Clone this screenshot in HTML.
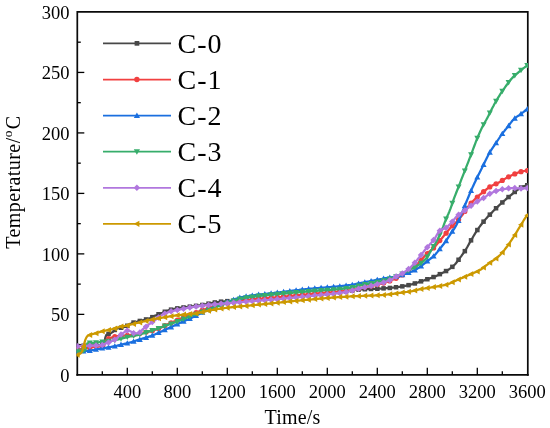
<!DOCTYPE html>
<html><head><meta charset="utf-8"><title>Temperature vs Time</title>
<style>
html,body{margin:0;padding:0;background:#fff;}
body{width:550px;height:428px;overflow:hidden;}
svg{display:block;}
text{font-family:"Liberation Serif","Times New Roman",serif;fill:#000;}
.tk{font-size:18.5px;}
.ax{font-size:20px;}
.lg{font-size:28px;}
</style></head><body>
<svg width="550" height="428" viewBox="0 0 550 428">
<rect width="550" height="428" fill="#fff"/>

<g stroke="#0a0a0a" stroke-width="1.72" fill="none" stroke-linecap="butt">
<path d="M77.3,375.75V11.95H527.8V375.75"/><path d="M76.39999999999999,374.85H528.6999999999999"/>
</g>
<g stroke="#000" stroke-width="1.3">
<line x1="102.3" y1="374.85" x2="102.3" y2="371.35"/>
<line x1="127.3" y1="374.85" x2="127.3" y2="367.85"/>
<line x1="152.3" y1="374.85" x2="152.3" y2="371.35"/>
<line x1="177.3" y1="374.85" x2="177.3" y2="367.85"/>
<line x1="202.3" y1="374.85" x2="202.3" y2="371.35"/>
<line x1="227.3" y1="374.85" x2="227.3" y2="367.85"/>
<line x1="252.3" y1="374.85" x2="252.3" y2="371.35"/>
<line x1="277.3" y1="374.85" x2="277.3" y2="367.85"/>
<line x1="302.3" y1="374.85" x2="302.3" y2="371.35"/>
<line x1="327.3" y1="374.85" x2="327.3" y2="367.85"/>
<line x1="352.3" y1="374.85" x2="352.3" y2="371.35"/>
<line x1="377.3" y1="374.85" x2="377.3" y2="367.85"/>
<line x1="402.3" y1="374.85" x2="402.3" y2="371.35"/>
<line x1="427.3" y1="374.85" x2="427.3" y2="367.85"/>
<line x1="452.3" y1="374.85" x2="452.3" y2="371.35"/>
<line x1="477.3" y1="374.85" x2="477.3" y2="367.85"/>
<line x1="502.3" y1="374.85" x2="502.3" y2="371.35"/>
<line x1="77.3" y1="344.60833333333335" x2="80.8" y2="344.60833333333335"/>
<line x1="77.3" y1="314.3666666666667" x2="84.3" y2="314.3666666666667"/>
<line x1="77.3" y1="284.125" x2="80.8" y2="284.125"/>
<line x1="77.3" y1="253.88333333333333" x2="84.3" y2="253.88333333333333"/>
<line x1="77.3" y1="223.64166666666668" x2="80.8" y2="223.64166666666668"/>
<line x1="77.3" y1="193.4" x2="84.3" y2="193.4"/>
<line x1="77.3" y1="163.15833333333333" x2="80.8" y2="163.15833333333333"/>
<line x1="77.3" y1="132.91666666666666" x2="84.3" y2="132.91666666666666"/>
<line x1="77.3" y1="102.67500000000001" x2="80.8" y2="102.67500000000001"/>
<line x1="77.3" y1="72.43333333333334" x2="84.3" y2="72.43333333333334"/>
<line x1="77.3" y1="42.19166666666666" x2="80.8" y2="42.19166666666666"/>
</g>
<text class="tk" x="127.3" y="397.5" text-anchor="middle">400</text>
<text class="tk" x="177.3" y="397.5" text-anchor="middle">800</text>
<text class="tk" x="227.3" y="397.5" text-anchor="middle">1200</text>
<text class="tk" x="277.3" y="397.5" text-anchor="middle">1600</text>
<text class="tk" x="327.3" y="397.5" text-anchor="middle">2000</text>
<text class="tk" x="377.3" y="397.5" text-anchor="middle">2400</text>
<text class="tk" x="427.3" y="397.5" text-anchor="middle">2800</text>
<text class="tk" x="477.3" y="397.5" text-anchor="middle">3200</text>
<text class="tk" x="527.3" y="397.5" text-anchor="middle">3600</text>
<text class="tk" x="69.6" y="381.6" text-anchor="end">0</text>
<text class="tk" x="69.6" y="321.1" text-anchor="end">50</text>
<text class="tk" x="69.6" y="260.6" text-anchor="end">100</text>
<text class="tk" x="69.6" y="200.1" text-anchor="end">150</text>
<text class="tk" x="69.6" y="139.6" text-anchor="end">200</text>
<text class="tk" x="69.6" y="79.1" text-anchor="end">250</text>
<text class="tk" x="69.6" y="18.6" text-anchor="end">300</text>
<text class="ax" x="292.6" y="423.7" text-anchor="middle" style="letter-spacing:0.2px">Time/s</text>
<text class="ax" transform="translate(19.6,182.2) rotate(-90)" text-anchor="middle" style="letter-spacing:0.43px">Temperature/<tspan font-size="13.5px" dy="-8">o</tspan><tspan dy="8" dx="0.8">C</tspan></text>
<clipPath id="cp"><rect x="76.39999999999999" y="11.95" width="451.59999999999997" height="362.90000000000003"/></clipPath>
<g clip-path="url(#cp)">
<g fill="#484848" stroke="none">
<polyline points="77.3,346.0 78.3,346.0 79.3,345.9 80.3,345.9 81.3,345.9 82.3,345.8 83.3,345.8 84.3,345.8 85.3,345.7 86.3,345.7 87.3,345.6 88.3,345.6 89.3,345.5 90.3,345.5 91.3,345.4 92.3,345.4 93.3,345.4 94.3,345.4 95.3,345.3 96.3,345.3 97.3,345.2 98.3,345.2 99.3,345.1 100.3,345.0 101.3,344.9 102.3,344.8 103.3,344.6 104.3,343.1 105.3,337.7 106.3,335.0 107.3,334.3 108.3,334.0 109.3,333.8 110.3,333.4 111.3,332.9 112.3,332.3 113.3,331.6 114.3,330.5 115.3,329.5 116.3,328.9 117.3,328.5 118.3,328.2 119.3,328.0 120.3,327.8 121.3,327.7 122.3,327.5 123.3,327.3 124.3,327.0 125.3,326.7 126.3,326.2 127.3,325.7 128.3,325.1 129.3,324.5 130.3,323.9 131.3,323.4 132.3,322.9 133.3,322.6 134.3,322.3 135.3,322.1 136.3,321.8 137.3,321.6 138.3,321.3 139.3,321.1 140.3,320.8 141.3,320.6 142.3,320.3 143.3,320.1 144.3,319.9 145.3,319.6 146.3,319.4 147.3,319.1 148.3,318.8 149.3,318.4 150.3,318.1 151.3,317.6 152.3,317.1 153.3,316.6 154.3,316.1 155.3,315.6 156.3,315.2 157.3,314.8 158.3,314.4 159.3,314.0 160.3,313.5 161.3,313.1 162.3,312.8 163.3,312.4 164.3,312.0 165.3,311.6 166.3,311.2 167.3,310.8 168.3,310.4 169.3,310.1 170.3,309.8 171.3,309.6 172.3,309.3 173.3,309.1 174.3,308.9 175.3,308.7 176.3,308.6 177.3,308.4 178.3,308.2 179.3,308.1 180.3,307.9 181.3,307.7 182.3,307.6 183.3,307.5 184.3,307.3 185.3,307.2 186.3,307.1 187.3,306.9 188.3,306.8 189.3,306.7 190.3,306.6 191.3,306.5 192.3,306.3 193.3,306.2 194.3,306.1 195.3,306.0 196.3,305.8 197.3,305.7 198.3,305.6 199.3,305.4 200.3,305.3 201.3,305.1 202.3,304.9 203.3,304.7 204.3,304.5 205.3,304.3 206.3,304.1 207.3,303.9 208.3,303.7 209.3,303.5 210.3,303.3 211.3,303.1 212.3,302.9 213.3,302.7 214.3,302.6 215.3,302.4 216.3,302.2 217.3,302.1 218.3,302.0 219.3,301.9 220.3,301.8 221.3,301.7 222.3,301.6 223.3,301.5 224.3,301.4 225.3,301.3 226.3,301.3 227.3,301.2 228.3,301.1 229.3,301.0 230.3,301.0 231.3,300.9 232.3,300.8 233.3,300.8 234.3,300.7 235.3,300.7 236.3,300.6 237.3,300.5 238.3,300.5 239.3,300.4 240.3,300.4 241.3,300.3 242.3,300.3 243.3,300.2 244.3,300.1 245.3,300.1 246.3,300.0 247.3,300.0 248.3,299.9 249.3,299.8 250.3,299.8 251.3,299.7 252.3,299.6 253.3,299.5 254.3,299.5 255.3,299.4 256.3,299.3 257.3,299.2 258.3,299.2 259.3,299.1 260.3,299.0 261.3,298.9 262.3,298.9 263.3,298.8 264.3,298.7 265.3,298.6 266.3,298.6 267.3,298.5 268.3,298.4 269.3,298.3 270.3,298.3 271.3,298.2 272.3,298.1 273.3,298.0 274.3,298.0 275.3,297.9 276.3,297.8 277.3,297.7 278.3,297.6 279.3,297.6 280.3,297.5 281.3,297.4 282.3,297.3 283.3,297.3 284.3,297.2 285.3,297.1 286.3,297.0 287.3,296.9 288.3,296.9 289.3,296.8 290.3,296.7 291.3,296.6 292.3,296.5 293.3,296.5 294.3,296.4 295.3,296.3 296.3,296.2 297.3,296.1 298.3,296.0 299.3,296.0 300.3,295.9 301.3,295.8 302.3,295.7 303.3,295.6 304.3,295.5 305.3,295.4 306.3,295.4 307.3,295.3 308.3,295.2 309.3,295.1 310.3,295.0 311.3,294.9 312.3,294.8 313.3,294.8 314.3,294.7 315.3,294.6 316.3,294.5 317.3,294.4 318.3,294.3 319.3,294.2 320.3,294.2 321.3,294.1 322.3,294.0 323.3,293.9 324.3,293.8 325.3,293.7 326.3,293.6 327.3,293.5 328.3,293.4 329.3,293.3 330.3,293.2 331.3,293.1 332.3,293.0 333.3,292.9 334.3,292.8 335.3,292.7 336.3,292.6 337.3,292.5 338.3,292.4 339.3,292.3 340.3,292.2 341.3,292.0 342.3,291.9 343.3,291.8 344.3,291.6 345.3,291.5 346.3,291.3 347.3,291.2 348.3,291.0 349.3,290.9 350.3,290.7 351.3,290.6 352.3,290.4 353.3,290.3 354.3,290.2 355.3,290.0 356.3,289.9 357.3,289.8 358.3,289.6 359.3,289.5 360.3,289.4 361.3,289.4 362.3,289.3 363.3,289.3 364.3,289.2 365.3,289.2 366.3,289.2 367.3,289.1 368.3,289.1 369.3,289.0 370.3,289.0 371.3,289.0 372.3,288.9 373.3,288.9 374.3,288.8 375.3,288.8 376.3,288.8 377.3,288.7 378.3,288.7 379.3,288.6 380.3,288.6 381.3,288.5 382.3,288.5 383.3,288.4 384.3,288.3 385.3,288.3 386.3,288.2 387.3,288.1 388.3,288.1 389.3,288.0 390.3,287.9 391.3,287.8 392.3,287.7 393.3,287.6 394.3,287.5 395.3,287.4 396.3,287.2 397.3,287.1 398.3,287.0 399.3,286.9 400.3,286.7 401.3,286.5 402.3,286.4 403.3,286.2 404.3,286.0 405.3,285.8 406.3,285.6 407.3,285.4 408.3,285.2 409.3,285.0 410.3,284.7 411.3,284.5 412.3,284.2 413.3,283.9 414.3,283.6 415.3,283.2 416.3,282.9 417.3,282.6 418.3,282.3 419.3,281.9 420.3,281.6 421.3,281.3 422.3,280.9 423.3,280.6 424.3,280.3 425.3,279.9 426.3,279.6 427.3,279.2 428.3,278.9 429.3,278.6 430.3,278.2 431.3,277.9 432.3,277.5 433.3,277.2 434.3,276.8 435.3,276.4 436.3,275.9 437.3,275.4 438.3,274.9 439.3,274.4 440.3,273.9 441.3,273.4 442.3,272.9 443.3,272.4 444.3,271.9 445.3,271.5 446.3,271.0 447.3,270.4 448.3,269.8 449.3,269.1 450.3,268.4 451.3,267.7 452.3,266.8 453.3,265.9 454.3,265.0 455.3,264.0 456.3,262.8 457.3,261.5 458.3,260.1 459.3,258.7 460.3,257.4 461.3,256.1 462.3,254.7 463.3,253.3 464.3,251.9 465.3,250.4 466.3,248.7 467.3,247.0 468.3,245.2 469.3,243.4 470.3,241.7 471.3,240.0 472.3,238.2 473.3,236.5 474.3,234.8 475.3,233.2 476.3,231.6 477.3,230.1 478.3,228.6 479.3,227.2 480.3,225.8 481.3,224.5 482.3,223.2 483.3,222.0 484.3,220.7 485.3,219.6 486.3,218.4 487.3,217.3 488.3,216.2 489.3,215.2 490.3,214.1 491.3,213.1 492.3,212.1 493.3,211.0 494.3,210.0 495.3,209.0 496.3,208.0 497.3,207.1 498.3,206.1 499.3,205.2 500.3,204.2 501.3,203.3 502.3,202.4 503.3,201.5 504.3,200.6 505.3,199.8 506.3,198.9 507.3,198.1 508.3,197.3 509.3,196.4 510.3,195.6 511.3,194.8 512.3,194.0 513.3,193.2 514.3,192.4 515.3,191.6 516.3,190.8 517.3,190.1 518.3,189.4 519.3,188.7 520.3,188.0 521.3,187.4 522.3,186.9 523.3,186.4 524.3,186.1 525.3,185.8 526.3,185.5 527.3,185.3" fill="none" stroke="#484848" stroke-width="2.25" stroke-linejoin="round"/>
<rect x="75.0" y="343.8" width="4.5" height="4.5"/>
<rect x="81.3" y="343.5" width="4.5" height="4.5"/>
<rect x="87.5" y="343.3" width="4.5" height="4.5"/>
<rect x="93.8" y="343.1" width="4.5" height="4.5"/>
<rect x="100.0" y="342.5" width="4.5" height="4.5"/>
<rect x="106.3" y="331.7" width="4.5" height="4.5"/>
<rect x="112.5" y="327.7" width="4.5" height="4.5"/>
<rect x="118.8" y="325.5" width="4.5" height="4.5"/>
<rect x="125.0" y="323.5" width="4.5" height="4.5"/>
<rect x="131.3" y="320.3" width="4.5" height="4.5"/>
<rect x="137.6" y="318.7" width="4.5" height="4.5"/>
<rect x="143.8" y="317.2" width="4.5" height="4.5"/>
<rect x="150.1" y="314.9" width="4.5" height="4.5"/>
<rect x="156.3" y="312.0" width="4.5" height="4.5"/>
<rect x="162.6" y="309.5" width="4.5" height="4.5"/>
<rect x="168.8" y="307.4" width="4.5" height="4.5"/>
<rect x="175.1" y="306.1" width="4.5" height="4.5"/>
<rect x="181.3" y="305.2" width="4.5" height="4.5"/>
<rect x="187.6" y="304.4" width="4.5" height="4.5"/>
<rect x="193.8" y="303.6" width="4.5" height="4.5"/>
<rect x="200.1" y="302.7" width="4.5" height="4.5"/>
<rect x="206.3" y="301.4" width="4.5" height="4.5"/>
<rect x="212.6" y="300.2" width="4.5" height="4.5"/>
<rect x="218.8" y="299.4" width="4.5" height="4.5"/>
<rect x="225.1" y="298.9" width="4.5" height="4.5"/>
<rect x="231.3" y="298.5" width="4.5" height="4.5"/>
<rect x="237.6" y="298.2" width="4.5" height="4.5"/>
<rect x="243.8" y="297.8" width="4.5" height="4.5"/>
<rect x="250.1" y="297.4" width="4.5" height="4.5"/>
<rect x="256.3" y="296.9" width="4.5" height="4.5"/>
<rect x="262.6" y="296.4" width="4.5" height="4.5"/>
<rect x="268.8" y="296.0" width="4.5" height="4.5"/>
<rect x="275.1" y="295.5" width="4.5" height="4.5"/>
<rect x="281.3" y="295.0" width="4.5" height="4.5"/>
<rect x="287.6" y="294.5" width="4.5" height="4.5"/>
<rect x="293.8" y="294.0" width="4.5" height="4.5"/>
<rect x="300.1" y="293.5" width="4.5" height="4.5"/>
<rect x="306.3" y="292.9" width="4.5" height="4.5"/>
<rect x="312.6" y="292.4" width="4.5" height="4.5"/>
<rect x="318.8" y="291.8" width="4.5" height="4.5"/>
<rect x="325.1" y="291.3" width="4.5" height="4.5"/>
<rect x="331.3" y="290.7" width="4.5" height="4.5"/>
<rect x="337.6" y="290.0" width="4.5" height="4.5"/>
<rect x="343.8" y="289.1" width="4.5" height="4.5"/>
<rect x="350.1" y="288.2" width="4.5" height="4.5"/>
<rect x="356.3" y="287.4" width="4.5" height="4.5"/>
<rect x="362.6" y="287.0" width="4.5" height="4.5"/>
<rect x="368.8" y="286.7" width="4.5" height="4.5"/>
<rect x="375.1" y="286.5" width="4.5" height="4.5"/>
<rect x="381.3" y="286.1" width="4.5" height="4.5"/>
<rect x="387.6" y="285.7" width="4.5" height="4.5"/>
<rect x="393.8" y="285.0" width="4.5" height="4.5"/>
<rect x="400.1" y="284.1" width="4.5" height="4.5"/>
<rect x="406.3" y="282.9" width="4.5" height="4.5"/>
<rect x="412.6" y="281.2" width="4.5" height="4.5"/>
<rect x="418.8" y="279.1" width="4.5" height="4.5"/>
<rect x="425.1" y="277.0" width="4.5" height="4.5"/>
<rect x="431.3" y="274.8" width="4.5" height="4.5"/>
<rect x="437.6" y="271.9" width="4.5" height="4.5"/>
<rect x="443.8" y="268.8" width="4.5" height="4.5"/>
<rect x="450.1" y="264.6" width="4.5" height="4.5"/>
<rect x="456.3" y="257.5" width="4.5" height="4.5"/>
<rect x="462.6" y="248.9" width="4.5" height="4.5"/>
<rect x="468.8" y="238.1" width="4.5" height="4.5"/>
<rect x="475.1" y="227.8" width="4.5" height="4.5"/>
<rect x="481.3" y="219.4" width="4.5" height="4.5"/>
<rect x="487.6" y="212.4" width="4.5" height="4.5"/>
<rect x="493.8" y="206.0" width="4.5" height="4.5"/>
<rect x="500.1" y="200.2" width="4.5" height="4.5"/>
<rect x="506.3" y="194.8" width="4.5" height="4.5"/>
<rect x="512.5" y="189.7" width="4.5" height="4.5"/>
<rect x="518.8" y="185.3" width="4.5" height="4.5"/>
<rect x="525.0" y="183.0" width="4.5" height="4.5"/>
</g>
<g fill="#F14040" stroke="none">
<polyline points="77.3,349.5 78.3,349.4 79.3,349.3 80.3,349.1 81.3,349.0 82.3,348.9 83.3,348.7 84.3,348.6 85.3,348.5 86.3,348.3 87.3,348.2 88.3,348.0 89.3,347.8 90.3,347.6 91.3,347.4 92.3,347.2 93.3,347.0 94.3,346.8 95.3,346.7 96.3,346.6 97.3,346.5 98.3,346.4 99.3,346.4 100.3,346.4 101.3,346.3 102.3,346.2 103.3,346.1 104.3,345.6 105.3,342.5 106.3,340.3 107.3,339.2 108.3,338.7 109.3,338.4 110.3,338.1 111.3,337.7 112.3,337.4 113.3,337.1 114.3,336.8 115.3,336.5 116.3,336.3 117.3,336.2 118.3,336.1 119.3,336.0 120.3,335.9 121.3,335.8 122.3,335.8 123.3,335.7 124.3,335.6 125.3,335.5 126.3,335.5 127.3,335.4 128.3,335.3 129.3,335.2 130.3,335.1 131.3,335.0 132.3,334.9 133.3,334.7 134.3,334.6 135.3,334.5 136.3,334.3 137.3,334.1 138.3,333.9 139.3,333.6 140.3,333.4 141.3,333.1 142.3,332.9 143.3,332.6 144.3,332.4 145.3,332.1 146.3,331.9 147.3,331.8 148.3,331.6 149.3,331.4 150.3,331.2 151.3,331.0 152.3,330.7 153.3,330.4 154.3,330.1 155.3,329.7 156.3,329.4 157.3,329.0 158.3,328.6 159.3,328.2 160.3,327.8 161.3,327.4 162.3,326.9 163.3,326.4 164.3,326.0 165.3,325.5 166.3,325.0 167.3,324.5 168.3,324.0 169.3,323.6 170.3,323.1 171.3,322.7 172.3,322.2 173.3,321.8 174.3,321.4 175.3,320.9 176.3,320.5 177.3,320.1 178.3,319.6 179.3,319.2 180.3,318.8 181.3,318.3 182.3,317.9 183.3,317.5 184.3,317.1 185.3,316.7 186.3,316.3 187.3,315.8 188.3,315.4 189.3,315.0 190.3,314.6 191.3,314.3 192.3,313.9 193.3,313.5 194.3,313.1 195.3,312.7 196.3,312.4 197.3,312.0 198.3,311.6 199.3,311.3 200.3,310.9 201.3,310.6 202.3,310.2 203.3,309.9 204.3,309.5 205.3,309.2 206.3,308.8 207.3,308.5 208.3,308.2 209.3,307.9 210.3,307.6 211.3,307.3 212.3,307.0 213.3,306.7 214.3,306.4 215.3,306.2 216.3,305.9 217.3,305.6 218.3,305.4 219.3,305.1 220.3,304.8 221.3,304.6 222.3,304.3 223.3,304.1 224.3,303.9 225.3,303.6 226.3,303.4 227.3,303.2 228.3,303.0 229.3,302.8 230.3,302.6 231.3,302.4 232.3,302.2 233.3,302.1 234.3,301.9 235.3,301.8 236.3,301.6 237.3,301.5 238.3,301.3 239.3,301.2 240.3,301.1 241.3,300.9 242.3,300.8 243.3,300.7 244.3,300.6 245.3,300.4 246.3,300.3 247.3,300.2 248.3,300.1 249.3,300.0 250.3,299.9 251.3,299.8 252.3,299.7 253.3,299.6 254.3,299.4 255.3,299.3 256.3,299.2 257.3,299.1 258.3,299.0 259.3,299.0 260.3,298.9 261.3,298.8 262.3,298.7 263.3,298.6 264.3,298.5 265.3,298.4 266.3,298.3 267.3,298.2 268.3,298.1 269.3,298.0 270.3,297.9 271.3,297.9 272.3,297.8 273.3,297.7 274.3,297.6 275.3,297.5 276.3,297.4 277.3,297.3 278.3,297.2 279.3,297.1 280.3,297.0 281.3,296.9 282.3,296.8 283.3,296.7 284.3,296.6 285.3,296.5 286.3,296.4 287.3,296.3 288.3,296.2 289.3,296.1 290.3,296.0 291.3,295.9 292.3,295.8 293.3,295.7 294.3,295.6 295.3,295.5 296.3,295.4 297.3,295.3 298.3,295.2 299.3,295.1 300.3,295.0 301.3,294.9 302.3,294.8 303.3,294.7 304.3,294.6 305.3,294.5 306.3,294.4 307.3,294.3 308.3,294.2 309.3,294.1 310.3,294.0 311.3,293.9 312.3,293.8 313.3,293.7 314.3,293.7 315.3,293.6 316.3,293.5 317.3,293.4 318.3,293.4 319.3,293.3 320.3,293.2 321.3,293.1 322.3,293.1 323.3,293.0 324.3,292.9 325.3,292.8 326.3,292.8 327.3,292.7 328.3,292.6 329.3,292.5 330.3,292.4 331.3,292.4 332.3,292.3 333.3,292.2 334.3,292.1 335.3,292.0 336.3,291.9 337.3,291.8 338.3,291.7 339.3,291.6 340.3,291.6 341.3,291.4 342.3,291.3 343.3,291.2 344.3,291.1 345.3,291.0 346.3,290.9 347.3,290.8 348.3,290.6 349.3,290.5 350.3,290.4 351.3,290.2 352.3,290.0 353.3,289.8 354.3,289.6 355.3,289.4 356.3,289.2 357.3,288.9 358.3,288.7 359.3,288.4 360.3,288.2 361.3,287.9 362.3,287.7 363.3,287.5 364.3,287.2 365.3,287.0 366.3,286.8 367.3,286.6 368.3,286.4 369.3,286.2 370.3,286.0 371.3,285.9 372.3,285.7 373.3,285.5 374.3,285.3 375.3,285.1 376.3,284.9 377.3,284.6 378.3,284.4 379.3,284.2 380.3,283.9 381.3,283.7 382.3,283.4 383.3,283.1 384.3,282.8 385.3,282.5 386.3,282.2 387.3,281.8 388.3,281.5 389.3,281.1 390.3,280.7 391.3,280.3 392.3,279.9 393.3,279.5 394.3,279.1 395.3,278.6 396.3,278.2 397.3,277.7 398.3,277.2 399.3,276.7 400.3,276.1 401.3,275.6 402.3,275.0 403.3,274.4 404.3,273.7 405.3,273.1 406.3,272.4 407.3,271.7 408.3,271.1 409.3,270.4 410.3,269.6 411.3,268.9 412.3,268.1 413.3,267.2 414.3,266.4 415.3,265.6 416.3,264.7 417.3,263.8 418.3,262.9 419.3,261.9 420.3,260.9 421.3,259.9 422.3,258.8 423.3,257.7 424.3,256.6 425.3,255.5 426.3,254.5 427.3,253.5 428.3,252.5 429.3,251.6 430.3,250.8 431.3,250.0 432.3,249.1 433.3,248.3 434.3,247.3 435.3,246.2 436.3,245.0 437.3,243.8 438.3,242.5 439.3,241.3 440.3,240.0 441.3,238.9 442.3,237.7 443.3,236.5 444.3,235.3 445.3,234.1 446.3,232.9 447.3,231.7 448.3,230.4 449.3,229.2 450.3,227.9 451.3,226.8 452.3,225.8 453.3,224.9 454.3,224.1 455.3,223.1 456.3,222.1 457.3,221.0 458.3,219.9 459.3,218.7 460.3,217.5 461.3,216.3 462.3,215.0 463.3,213.7 464.3,212.2 465.3,210.8 466.3,209.3 467.3,207.9 468.3,206.5 469.3,205.2 470.3,204.0 471.3,202.9 472.3,201.8 473.3,200.8 474.3,199.8 475.3,198.8 476.3,197.9 477.3,197.0 478.3,196.1 479.3,195.2 480.3,194.3 481.3,193.5 482.3,192.7 483.3,191.9 484.3,191.1 485.3,190.3 486.3,189.5 487.3,188.7 488.3,187.9 489.3,187.2 490.3,186.6 491.3,186.1 492.3,185.6 493.3,185.1 494.3,184.6 495.3,184.2 496.3,183.7 497.3,183.3 498.3,182.8 499.3,182.2 500.3,181.7 501.3,181.1 502.3,180.4 503.3,179.8 504.3,179.2 505.3,178.6 506.3,178.0 507.3,177.5 508.3,177.0 509.3,176.5 510.3,176.0 511.3,175.5 512.3,175.0 513.3,174.6 514.3,174.1 515.3,173.7 516.3,173.3 517.3,172.9 518.3,172.5 519.3,172.2 520.3,171.9 521.3,171.7 522.3,171.4 523.3,171.2 524.3,171.0 525.3,170.8 526.3,170.7 527.3,170.6" fill="none" stroke="#F14040" stroke-width="2.25" stroke-linejoin="round"/>
<circle cx="77.3" cy="349.5" r="2.6"/>
<circle cx="83.5" cy="348.7" r="2.6"/>
<circle cx="89.8" cy="347.7" r="2.6"/>
<circle cx="96.0" cy="346.6" r="2.6"/>
<circle cx="102.3" cy="346.2" r="2.6"/>
<circle cx="108.5" cy="338.7" r="2.6"/>
<circle cx="114.8" cy="336.6" r="2.6"/>
<circle cx="121.0" cy="335.8" r="2.6"/>
<circle cx="127.3" cy="335.4" r="2.6"/>
<circle cx="133.6" cy="334.7" r="2.6"/>
<circle cx="139.8" cy="333.5" r="2.6"/>
<circle cx="146.1" cy="332.0" r="2.6"/>
<circle cx="152.3" cy="330.7" r="2.6"/>
<circle cx="158.6" cy="328.5" r="2.6"/>
<circle cx="164.8" cy="325.7" r="2.6"/>
<circle cx="171.1" cy="322.8" r="2.6"/>
<circle cx="177.3" cy="320.1" r="2.6"/>
<circle cx="183.6" cy="317.4" r="2.6"/>
<circle cx="189.8" cy="314.8" r="2.6"/>
<circle cx="196.1" cy="312.5" r="2.6"/>
<circle cx="202.3" cy="310.2" r="2.6"/>
<circle cx="208.6" cy="308.1" r="2.6"/>
<circle cx="214.8" cy="306.3" r="2.6"/>
<circle cx="221.1" cy="304.6" r="2.6"/>
<circle cx="227.3" cy="303.2" r="2.6"/>
<circle cx="233.6" cy="302.0" r="2.6"/>
<circle cx="239.8" cy="301.1" r="2.6"/>
<circle cx="246.1" cy="300.4" r="2.6"/>
<circle cx="252.3" cy="299.7" r="2.6"/>
<circle cx="258.6" cy="299.0" r="2.6"/>
<circle cx="264.8" cy="298.4" r="2.6"/>
<circle cx="271.1" cy="297.9" r="2.6"/>
<circle cx="277.3" cy="297.3" r="2.6"/>
<circle cx="283.6" cy="296.6" r="2.6"/>
<circle cx="289.8" cy="296.0" r="2.6"/>
<circle cx="296.1" cy="295.4" r="2.6"/>
<circle cx="302.3" cy="294.8" r="2.6"/>
<circle cx="308.6" cy="294.2" r="2.6"/>
<circle cx="314.8" cy="293.6" r="2.6"/>
<circle cx="321.1" cy="293.1" r="2.6"/>
<circle cx="327.3" cy="292.7" r="2.6"/>
<circle cx="333.6" cy="292.2" r="2.6"/>
<circle cx="339.8" cy="291.6" r="2.6"/>
<circle cx="346.1" cy="290.9" r="2.6"/>
<circle cx="352.3" cy="290.0" r="2.6"/>
<circle cx="358.6" cy="288.6" r="2.6"/>
<circle cx="364.8" cy="287.1" r="2.6"/>
<circle cx="371.1" cy="285.9" r="2.6"/>
<circle cx="377.3" cy="284.6" r="2.6"/>
<circle cx="383.6" cy="283.1" r="2.6"/>
<circle cx="389.8" cy="280.9" r="2.6"/>
<circle cx="396.1" cy="278.3" r="2.6"/>
<circle cx="402.3" cy="275.0" r="2.6"/>
<circle cx="408.6" cy="270.9" r="2.6"/>
<circle cx="414.8" cy="266.0" r="2.6"/>
<circle cx="421.1" cy="260.1" r="2.6"/>
<circle cx="427.3" cy="253.5" r="2.6"/>
<circle cx="433.6" cy="248.0" r="2.6"/>
<circle cx="439.8" cy="240.6" r="2.6"/>
<circle cx="446.1" cy="233.2" r="2.6"/>
<circle cx="452.3" cy="225.8" r="2.6"/>
<circle cx="458.6" cy="219.6" r="2.6"/>
<circle cx="464.8" cy="211.5" r="2.6"/>
<circle cx="471.1" cy="203.2" r="2.6"/>
<circle cx="477.3" cy="197.0" r="2.6"/>
<circle cx="483.6" cy="191.7" r="2.6"/>
<circle cx="489.8" cy="186.9" r="2.6"/>
<circle cx="496.1" cy="183.8" r="2.6"/>
<circle cx="502.3" cy="180.4" r="2.6"/>
<circle cx="508.6" cy="176.8" r="2.6"/>
<circle cx="514.8" cy="173.9" r="2.6"/>
<circle cx="521.0" cy="171.7" r="2.6"/>
<circle cx="527.3" cy="170.6" r="2.6"/>
</g>
<g fill="#1A6FDF" stroke="none">
<polyline points="77.3,351.6 78.3,351.6 79.3,351.5 80.3,351.5 81.3,351.4 82.3,351.3 83.3,351.3 84.3,351.2 85.3,351.1 86.3,351.0 87.3,350.9 88.3,350.8 89.3,350.6 90.3,350.5 91.3,350.3 92.3,350.2 93.3,350.0 94.3,349.8 95.3,349.6 96.3,349.4 97.3,349.2 98.3,349.0 99.3,348.8 100.3,348.6 101.3,348.4 102.3,348.2 103.3,348.1 104.3,347.9 105.3,347.8 106.3,347.6 107.3,347.5 108.3,347.3 109.3,347.1 110.3,347.0 111.3,346.8 112.3,346.6 113.3,346.4 114.3,346.3 115.3,346.1 116.3,345.8 117.3,345.6 118.3,345.3 119.3,345.0 120.3,344.8 121.3,344.5 122.3,344.3 123.3,344.1 124.3,343.9 125.3,343.7 126.3,343.5 127.3,343.2 128.3,343.0 129.3,342.7 130.3,342.5 131.3,342.2 132.3,341.8 133.3,341.5 134.3,341.2 135.3,340.9 136.3,340.5 137.3,340.2 138.3,339.9 139.3,339.6 140.3,339.3 141.3,339.0 142.3,338.7 143.3,338.4 144.3,338.1 145.3,337.8 146.3,337.5 147.3,337.2 148.3,336.9 149.3,336.5 150.3,336.2 151.3,335.8 152.3,335.4 153.3,335.0 154.3,334.6 155.3,334.2 156.3,333.7 157.3,333.3 158.3,332.8 159.3,332.3 160.3,331.9 161.3,331.4 162.3,331.0 163.3,330.5 164.3,330.1 165.3,329.6 166.3,329.2 167.3,328.7 168.3,328.2 169.3,327.8 170.3,327.3 171.3,326.9 172.3,326.4 173.3,325.9 174.3,325.5 175.3,325.0 176.3,324.5 177.3,324.1 178.3,323.6 179.3,323.2 180.3,322.7 181.3,322.3 182.3,321.8 183.3,321.4 184.3,321.0 185.3,320.6 186.3,320.1 187.3,319.7 188.3,319.3 189.3,318.8 190.3,318.4 191.3,317.9 192.3,317.5 193.3,317.0 194.3,316.5 195.3,316.0 196.3,315.5 197.3,315.0 198.3,314.4 199.3,313.9 200.3,313.3 201.3,312.9 202.3,312.4 203.3,311.9 204.3,311.4 205.3,311.0 206.3,310.5 207.3,310.1 208.3,309.6 209.3,309.2 210.3,308.7 211.3,308.3 212.3,307.9 213.3,307.5 214.3,307.1 215.3,306.6 216.3,306.2 217.3,305.8 218.3,305.4 219.3,305.1 220.3,304.7 221.3,304.3 222.3,303.9 223.3,303.5 224.3,303.2 225.3,302.8 226.3,302.4 227.3,302.1 228.3,301.7 229.3,301.3 230.3,300.9 231.3,300.6 232.3,300.2 233.3,299.8 234.3,299.4 235.3,299.0 236.3,298.7 237.3,298.3 238.3,298.0 239.3,297.7 240.3,297.4 241.3,297.2 242.3,297.0 243.3,296.8 244.3,296.6 245.3,296.4 246.3,296.3 247.3,296.1 248.3,296.0 249.3,295.8 250.3,295.7 251.3,295.6 252.3,295.4 253.3,295.3 254.3,295.2 255.3,295.0 256.3,294.9 257.3,294.8 258.3,294.7 259.3,294.6 260.3,294.4 261.3,294.3 262.3,294.2 263.3,294.1 264.3,294.0 265.3,293.9 266.3,293.8 267.3,293.7 268.3,293.6 269.3,293.4 270.3,293.3 271.3,293.2 272.3,293.1 273.3,293.0 274.3,292.9 275.3,292.8 276.3,292.6 277.3,292.5 278.3,292.4 279.3,292.3 280.3,292.2 281.3,292.0 282.3,291.9 283.3,291.8 284.3,291.7 285.3,291.6 286.3,291.4 287.3,291.3 288.3,291.2 289.3,291.1 290.3,290.9 291.3,290.8 292.3,290.7 293.3,290.6 294.3,290.4 295.3,290.3 296.3,290.2 297.3,290.1 298.3,290.0 299.3,289.9 300.3,289.7 301.3,289.6 302.3,289.5 303.3,289.4 304.3,289.3 305.3,289.2 306.3,289.1 307.3,289.0 308.3,288.9 309.3,288.8 310.3,288.7 311.3,288.6 312.3,288.5 313.3,288.4 314.3,288.3 315.3,288.2 316.3,288.1 317.3,288.0 318.3,288.0 319.3,287.9 320.3,287.8 321.3,287.7 322.3,287.6 323.3,287.6 324.3,287.5 325.3,287.4 326.3,287.3 327.3,287.2 328.3,287.2 329.3,287.1 330.3,287.0 331.3,286.9 332.3,286.8 333.3,286.8 334.3,286.7 335.3,286.6 336.3,286.5 337.3,286.4 338.3,286.3 339.3,286.2 340.3,286.1 341.3,286.0 342.3,285.9 343.3,285.8 344.3,285.7 345.3,285.6 346.3,285.5 347.3,285.3 348.3,285.2 349.3,285.1 350.3,285.0 351.3,284.8 352.3,284.7 353.3,284.5 354.3,284.3 355.3,284.1 356.3,283.9 357.3,283.7 358.3,283.5 359.3,283.3 360.3,283.1 361.3,282.9 362.3,282.7 363.3,282.5 364.3,282.3 365.3,282.1 366.3,281.9 367.3,281.7 368.3,281.5 369.3,281.3 370.3,281.1 371.3,280.9 372.3,280.7 373.3,280.5 374.3,280.3 375.3,280.1 376.3,279.9 377.3,279.7 378.3,279.6 379.3,279.4 380.3,279.2 381.3,279.0 382.3,278.8 383.3,278.6 384.3,278.4 385.3,278.2 386.3,278.1 387.3,277.9 388.3,277.8 389.3,277.6 390.3,277.4 391.3,277.3 392.3,277.1 393.3,277.0 394.3,276.8 395.3,276.6 396.3,276.4 397.3,276.2 398.3,275.9 399.3,275.7 400.3,275.4 401.3,275.1 402.3,274.8 403.3,274.5 404.3,274.2 405.3,273.9 406.3,273.5 407.3,273.2 408.3,272.8 409.3,272.5 410.3,272.1 411.3,271.7 412.3,271.3 413.3,270.8 414.3,270.4 415.3,269.9 416.3,269.3 417.3,268.7 418.3,268.0 419.3,267.4 420.3,266.6 421.3,265.9 422.3,265.2 423.3,264.4 424.3,263.6 425.3,262.8 426.3,262.0 427.3,261.1 428.3,260.3 429.3,259.5 430.3,258.8 431.3,258.0 432.3,257.3 433.3,256.4 434.3,255.5 435.3,254.5 436.3,253.3 437.3,252.1 438.3,250.8 439.3,249.5 440.3,248.2 441.3,247.0 442.3,245.7 443.3,244.5 444.3,243.2 445.3,241.8 446.3,240.4 447.3,239.0 448.3,237.4 449.3,235.9 450.3,234.3 451.3,232.8 452.3,231.3 453.3,230.0 454.3,228.6 455.3,227.0 456.3,225.2 457.3,223.3 458.3,221.3 459.3,219.1 460.3,216.9 461.3,214.6 462.3,212.1 463.3,209.6 464.3,207.0 465.3,204.5 466.3,202.0 467.3,199.6 468.3,197.2 469.3,194.8 470.3,192.4 471.3,190.2 472.3,187.9 473.3,185.7 474.3,183.5 475.3,181.4 476.3,179.3 477.3,177.2 478.3,175.2 479.3,173.2 480.3,171.2 481.3,169.2 482.3,167.2 483.3,165.2 484.3,163.2 485.3,161.1 486.3,159.1 487.3,157.0 488.3,155.1 489.3,153.2 490.3,151.5 491.3,149.9 492.3,148.4 493.3,146.9 494.3,145.5 495.3,144.0 496.3,142.5 497.3,141.0 498.3,139.5 499.3,138.0 500.3,136.5 501.3,135.0 502.3,133.7 503.3,132.3 504.3,131.1 505.3,129.8 506.3,128.6 507.3,127.3 508.3,126.1 509.3,124.8 510.3,123.4 511.3,122.1 512.3,120.8 513.3,119.7 514.3,118.7 515.3,117.9 516.3,117.1 517.3,116.4 518.3,115.8 519.3,115.1 520.3,114.3 521.3,113.6 522.3,112.8 523.3,112.1 524.3,111.3 525.3,110.5 526.3,109.7 527.3,109.0" fill="none" stroke="#1A6FDF" stroke-width="2.25" stroke-linejoin="round"/>
<path d="M74.3,354.0L80.3,354.0L77.3,348.6Z"/>
<path d="M80.5,353.6L86.5,353.6L83.5,348.2Z"/>
<path d="M86.8,353.0L92.8,353.0L89.8,347.6Z"/>
<path d="M93.0,351.8L99.0,351.8L96.0,346.4Z"/>
<path d="M99.3,350.6L105.3,350.6L102.3,345.2Z"/>
<path d="M105.5,349.7L111.5,349.7L108.5,344.3Z"/>
<path d="M111.8,348.6L117.8,348.6L114.8,343.2Z"/>
<path d="M118.0,347.0L124.0,347.0L121.0,341.6Z"/>
<path d="M124.3,345.6L130.3,345.6L127.3,340.2Z"/>
<path d="M130.6,343.8L136.6,343.8L133.6,338.4Z"/>
<path d="M136.8,341.9L142.8,341.9L139.8,336.5Z"/>
<path d="M143.1,340.0L149.1,340.0L146.1,334.6Z"/>
<path d="M149.3,337.8L155.3,337.8L152.3,332.4Z"/>
<path d="M155.6,335.1L161.6,335.1L158.6,329.7Z"/>
<path d="M161.8,332.3L167.8,332.3L164.8,326.9Z"/>
<path d="M168.1,329.4L174.1,329.4L171.1,324.0Z"/>
<path d="M174.3,326.5L180.3,326.5L177.3,321.1Z"/>
<path d="M180.6,323.7L186.6,323.7L183.6,318.3Z"/>
<path d="M186.8,321.0L192.8,321.0L189.8,315.6Z"/>
<path d="M193.1,318.1L199.1,318.1L196.1,312.7Z"/>
<path d="M199.3,314.8L205.3,314.8L202.3,309.4Z"/>
<path d="M205.6,311.9L211.6,311.9L208.6,306.5Z"/>
<path d="M211.8,309.2L217.8,309.2L214.8,303.8Z"/>
<path d="M218.1,306.8L224.1,306.8L221.1,301.4Z"/>
<path d="M224.3,304.5L230.3,304.5L227.3,299.1Z"/>
<path d="M230.6,302.1L236.6,302.1L233.6,296.7Z"/>
<path d="M236.8,300.0L242.8,300.0L239.8,294.6Z"/>
<path d="M243.1,298.7L249.1,298.7L246.1,293.3Z"/>
<path d="M249.3,297.8L255.3,297.8L252.3,292.4Z"/>
<path d="M255.6,297.0L261.6,297.0L258.6,291.6Z"/>
<path d="M261.8,296.3L267.8,296.3L264.8,290.9Z"/>
<path d="M268.1,295.7L274.1,295.7L271.1,290.3Z"/>
<path d="M274.3,294.9L280.3,294.9L277.3,289.5Z"/>
<path d="M280.6,294.2L286.6,294.2L283.6,288.8Z"/>
<path d="M286.8,293.4L292.8,293.4L289.8,288.0Z"/>
<path d="M293.1,292.6L299.1,292.6L296.1,287.2Z"/>
<path d="M299.3,291.9L305.3,291.9L302.3,286.5Z"/>
<path d="M305.6,291.2L311.6,291.2L308.6,285.8Z"/>
<path d="M311.8,290.7L317.8,290.7L314.8,285.3Z"/>
<path d="M318.1,290.1L324.1,290.1L321.1,284.7Z"/>
<path d="M324.3,289.6L330.3,289.6L327.3,284.2Z"/>
<path d="M330.6,289.1L336.6,289.1L333.6,283.7Z"/>
<path d="M336.8,288.6L342.8,288.6L339.8,283.2Z"/>
<path d="M343.1,287.9L349.1,287.9L346.1,282.5Z"/>
<path d="M349.3,287.1L355.3,287.1L352.3,281.7Z"/>
<path d="M355.6,285.8L361.6,285.8L358.6,280.4Z"/>
<path d="M361.8,284.6L367.8,284.6L364.8,279.2Z"/>
<path d="M368.1,283.4L374.1,283.4L371.1,278.0Z"/>
<path d="M374.3,282.1L380.3,282.1L377.3,276.7Z"/>
<path d="M380.6,281.0L386.6,281.0L383.6,275.6Z"/>
<path d="M386.8,279.9L392.8,279.9L389.8,274.5Z"/>
<path d="M393.1,278.8L399.1,278.8L396.1,273.4Z"/>
<path d="M399.3,277.2L405.3,277.2L402.3,271.8Z"/>
<path d="M405.6,275.1L411.6,275.1L408.6,269.7Z"/>
<path d="M411.8,272.5L417.8,272.5L414.8,267.1Z"/>
<path d="M418.1,268.5L424.1,268.5L421.1,263.1Z"/>
<path d="M424.3,263.5L430.3,263.5L427.3,258.1Z"/>
<path d="M430.6,258.6L436.6,258.6L433.6,253.2Z"/>
<path d="M436.8,251.3L442.8,251.3L439.8,245.9Z"/>
<path d="M443.1,243.2L449.1,243.2L446.1,237.8Z"/>
<path d="M449.3,233.7L455.3,233.7L452.3,228.3Z"/>
<path d="M455.6,223.1L461.6,223.1L458.6,217.7Z"/>
<path d="M461.8,208.1L467.8,208.1L464.8,202.7Z"/>
<path d="M468.1,193.1L474.1,193.1L471.1,187.7Z"/>
<path d="M474.3,179.6L480.3,179.6L477.3,174.2Z"/>
<path d="M480.6,167.1L486.6,167.1L483.6,161.7Z"/>
<path d="M486.8,154.7L492.8,154.7L489.8,149.3Z"/>
<path d="M493.1,145.3L499.1,145.3L496.1,139.9Z"/>
<path d="M499.3,136.1L505.3,136.1L502.3,130.7Z"/>
<path d="M505.6,128.2L511.6,128.2L508.6,122.8Z"/>
<path d="M511.8,120.7L517.8,120.7L514.8,115.3Z"/>
<path d="M518.0,116.2L524.0,116.2L521.0,110.8Z"/>
<path d="M524.3,111.4L530.3,111.4L527.3,106.0Z"/>
</g>
<g fill="#37AD6B" stroke="none">
<polyline points="77.3,351.0 78.3,351.0 79.3,351.0 80.3,350.9 81.3,350.9 82.3,350.8 83.3,350.6 84.3,350.5 85.3,350.2 86.3,346.5 87.3,343.4 88.3,343.2 89.3,343.1 90.3,343.0 91.3,342.9 92.3,342.8 93.3,342.8 94.3,342.7 95.3,342.7 96.3,342.6 97.3,342.5 98.3,342.3 99.3,342.2 100.3,342.1 101.3,342.0 102.3,341.9 103.3,341.8 104.3,341.7 105.3,341.6 106.3,341.5 107.3,341.4 108.3,341.3 109.3,341.2 110.3,341.1 111.3,340.9 112.3,340.7 113.3,340.5 114.3,340.3 115.3,340.1 116.3,339.8 117.3,339.6 118.3,339.3 119.3,339.1 120.3,338.9 121.3,338.6 122.3,338.4 123.3,338.1 124.3,337.9 125.3,337.6 126.3,337.4 127.3,337.1 128.3,336.9 129.3,336.7 130.3,336.5 131.3,336.3 132.3,336.1 133.3,335.9 134.3,335.7 135.3,335.5 136.3,335.3 137.3,335.1 138.3,334.8 139.3,334.6 140.3,334.3 141.3,334.0 142.3,333.7 143.3,333.4 144.3,333.1 145.3,332.8 146.3,332.4 147.3,332.1 148.3,331.8 149.3,331.4 150.3,331.1 151.3,330.8 152.3,330.4 153.3,330.1 154.3,329.8 155.3,329.4 156.3,329.1 157.3,328.7 158.3,328.4 159.3,328.0 160.3,327.7 161.3,327.3 162.3,326.9 163.3,326.6 164.3,326.2 165.3,325.9 166.3,325.5 167.3,325.1 168.3,324.8 169.3,324.4 170.3,324.1 171.3,323.7 172.3,323.3 173.3,322.9 174.3,322.6 175.3,322.2 176.3,321.8 177.3,321.4 178.3,321.1 179.3,320.7 180.3,320.3 181.3,319.9 182.3,319.5 183.3,319.1 184.3,318.7 185.3,318.3 186.3,317.9 187.3,317.4 188.3,317.0 189.3,316.6 190.3,316.2 191.3,315.8 192.3,315.4 193.3,315.1 194.3,314.7 195.3,314.3 196.3,314.0 197.3,313.7 198.3,313.4 199.3,313.0 200.3,312.7 201.3,312.4 202.3,312.0 203.3,311.7 204.3,311.3 205.3,311.0 206.3,310.6 207.3,310.3 208.3,309.9 209.3,309.6 210.3,309.2 211.3,308.9 212.3,308.5 213.3,308.1 214.3,307.8 215.3,307.4 216.3,307.1 217.3,306.7 218.3,306.3 219.3,305.9 220.3,305.6 221.3,305.2 222.3,304.8 223.3,304.5 224.3,304.1 225.3,303.7 226.3,303.4 227.3,303.0 228.3,302.7 229.3,302.4 230.3,302.0 231.3,301.7 232.3,301.3 233.3,301.0 234.3,300.6 235.3,300.3 236.3,300.0 237.3,299.6 238.3,299.4 239.3,299.1 240.3,298.8 241.3,298.6 242.3,298.4 243.3,298.2 244.3,298.0 245.3,297.8 246.3,297.7 247.3,297.5 248.3,297.4 249.3,297.2 250.3,297.1 251.3,297.0 252.3,296.8 253.3,296.7 254.3,296.6 255.3,296.4 256.3,296.3 257.3,296.2 258.3,296.1 259.3,296.0 260.3,295.8 261.3,295.7 262.3,295.6 263.3,295.5 264.3,295.4 265.3,295.3 266.3,295.2 267.3,295.1 268.3,295.0 269.3,294.9 270.3,294.8 271.3,294.7 272.3,294.6 273.3,294.5 274.3,294.4 275.3,294.3 276.3,294.2 277.3,294.1 278.3,294.0 279.3,293.9 280.3,293.8 281.3,293.7 282.3,293.6 283.3,293.5 284.3,293.4 285.3,293.4 286.3,293.3 287.3,293.2 288.3,293.1 289.3,293.0 290.3,292.9 291.3,292.8 292.3,292.8 293.3,292.7 294.3,292.6 295.3,292.5 296.3,292.4 297.3,292.3 298.3,292.3 299.3,292.2 300.3,292.1 301.3,292.0 302.3,291.9 303.3,291.8 304.3,291.8 305.3,291.7 306.3,291.6 307.3,291.5 308.3,291.4 309.3,291.3 310.3,291.3 311.3,291.2 312.3,291.1 313.3,291.0 314.3,291.0 315.3,290.9 316.3,290.8 317.3,290.8 318.3,290.7 319.3,290.6 320.3,290.6 321.3,290.5 322.3,290.4 323.3,290.4 324.3,290.3 325.3,290.2 326.3,290.2 327.3,290.1 328.3,290.0 329.3,290.0 330.3,289.9 331.3,289.8 332.3,289.7 333.3,289.7 334.3,289.6 335.3,289.5 336.3,289.4 337.3,289.3 338.3,289.2 339.3,289.1 340.3,289.0 341.3,288.9 342.3,288.8 343.3,288.7 344.3,288.6 345.3,288.5 346.3,288.4 347.3,288.3 348.3,288.1 349.3,288.0 350.3,287.8 351.3,287.6 352.3,287.4 353.3,287.2 354.3,286.9 355.3,286.7 356.3,286.4 357.3,286.2 358.3,286.0 359.3,285.7 360.3,285.5 361.3,285.2 362.3,285.0 363.3,284.8 364.3,284.6 365.3,284.4 366.3,284.2 367.3,284.0 368.3,283.8 369.3,283.6 370.3,283.4 371.3,283.2 372.3,283.0 373.3,282.8 374.3,282.6 375.3,282.4 376.3,282.3 377.3,282.1 378.3,281.8 379.3,281.6 380.3,281.4 381.3,281.2 382.3,281.0 383.3,280.7 384.3,280.5 385.3,280.2 386.3,279.9 387.3,279.7 388.3,279.4 389.3,279.1 390.3,278.7 391.3,278.4 392.3,278.1 393.3,277.7 394.3,277.3 395.3,276.9 396.3,276.6 397.3,276.2 398.3,275.7 399.3,275.3 400.3,274.8 401.3,274.3 402.3,273.8 403.3,273.3 404.3,272.8 405.3,272.2 406.3,271.7 407.3,271.2 408.3,270.7 409.3,270.1 410.3,269.6 411.3,269.1 412.3,268.6 413.3,268.0 414.3,267.4 415.3,266.9 416.3,266.3 417.3,265.7 418.3,265.1 419.3,264.5 420.3,263.8 421.3,263.0 422.3,262.2 423.3,261.4 424.3,260.4 425.3,259.4 426.3,258.2 427.3,256.8 428.3,255.3 429.3,253.6 430.3,251.9 431.3,250.2 432.3,248.5 433.3,246.9 434.3,245.2 435.3,243.6 436.3,241.8 437.3,240.0 438.3,238.0 439.3,235.9 440.3,233.7 441.3,231.4 442.3,228.9 443.3,226.4 444.3,223.6 445.3,220.8 446.3,218.3 447.3,216.1 448.3,214.0 449.3,211.7 450.3,209.2 451.3,206.3 452.3,203.2 453.3,200.4 454.3,197.7 455.3,195.1 456.3,192.5 457.3,190.0 458.3,187.4 459.3,184.9 460.3,182.3 461.3,179.7 462.3,177.2 463.3,174.6 464.3,172.1 465.3,169.5 466.3,166.9 467.3,164.4 468.3,161.8 469.3,159.2 470.3,156.6 471.3,154.0 472.3,151.4 473.3,148.7 474.3,146.0 475.3,143.4 476.3,140.7 477.3,138.2 478.3,135.8 479.3,133.5 480.3,131.3 481.3,129.1 482.3,127.1 483.3,125.1 484.3,123.2 485.3,121.5 486.3,119.8 487.3,117.9 488.3,116.0 489.3,113.9 490.3,111.9 491.3,109.9 492.3,108.0 493.3,106.2 494.3,104.3 495.3,102.5 496.3,100.8 497.3,99.1 498.3,97.4 499.3,95.8 500.3,94.2 501.3,92.7 502.3,91.2 503.3,89.7 504.3,88.3 505.3,86.9 506.3,85.5 507.3,84.1 508.3,82.7 509.3,81.4 510.3,80.1 511.3,79.0 512.3,77.9 513.3,76.9 514.3,75.9 515.3,75.0 516.3,74.2 517.3,73.3 518.3,72.5 519.3,71.6 520.3,70.8 521.3,70.0 522.3,69.1 523.3,68.3 524.3,67.6 525.3,66.8 526.3,66.1 527.3,65.4" fill="none" stroke="#37AD6B" stroke-width="2.25" stroke-linejoin="round"/>
<path d="M74.3,348.6L80.3,348.6L77.3,354.0Z"/>
<path d="M80.5,348.2L86.5,348.2L83.5,353.6Z"/>
<path d="M86.8,340.6L92.8,340.6L89.8,346.0Z"/>
<path d="M93.0,340.2L99.0,340.2L96.0,345.6Z"/>
<path d="M99.3,339.5L105.3,339.5L102.3,344.9Z"/>
<path d="M105.5,338.8L111.5,338.8L108.5,344.2Z"/>
<path d="M111.8,337.8L117.8,337.8L114.8,343.2Z"/>
<path d="M118.0,336.3L124.0,336.3L121.0,341.7Z"/>
<path d="M124.3,334.7L130.3,334.7L127.3,340.1Z"/>
<path d="M130.6,333.4L136.6,333.4L133.6,338.8Z"/>
<path d="M136.8,332.0L142.8,332.0L139.8,337.4Z"/>
<path d="M143.1,330.1L149.1,330.1L146.1,335.5Z"/>
<path d="M149.3,328.0L155.3,328.0L152.3,333.4Z"/>
<path d="M155.6,325.9L161.6,325.9L158.6,331.3Z"/>
<path d="M161.8,323.6L167.8,323.6L164.8,329.0Z"/>
<path d="M168.1,321.4L174.1,321.4L171.1,326.8Z"/>
<path d="M174.3,319.0L180.3,319.0L177.3,324.4Z"/>
<path d="M180.6,316.6L186.6,316.6L183.6,322.0Z"/>
<path d="M186.8,314.0L192.8,314.0L189.8,319.4Z"/>
<path d="M193.1,311.7L199.1,311.7L196.1,317.1Z"/>
<path d="M199.3,309.6L205.3,309.6L202.3,315.0Z"/>
<path d="M205.6,307.4L211.6,307.4L208.6,312.8Z"/>
<path d="M211.8,305.2L217.8,305.2L214.8,310.6Z"/>
<path d="M218.1,302.9L224.1,302.9L221.1,308.3Z"/>
<path d="M224.3,300.6L230.3,300.6L227.3,306.0Z"/>
<path d="M230.6,298.5L236.6,298.5L233.6,303.9Z"/>
<path d="M236.8,296.5L242.8,296.5L239.8,301.9Z"/>
<path d="M243.1,295.3L249.1,295.3L246.1,300.7Z"/>
<path d="M249.3,294.4L255.3,294.4L252.3,299.8Z"/>
<path d="M255.6,293.6L261.6,293.6L258.6,299.0Z"/>
<path d="M261.8,292.9L267.8,292.9L264.8,298.3Z"/>
<path d="M268.1,292.3L274.1,292.3L271.1,297.7Z"/>
<path d="M274.3,291.7L280.3,291.7L277.3,297.1Z"/>
<path d="M280.6,291.1L286.6,291.1L283.6,296.5Z"/>
<path d="M286.8,290.6L292.8,290.6L289.8,296.0Z"/>
<path d="M293.1,290.0L299.1,290.0L296.1,295.4Z"/>
<path d="M299.3,289.5L305.3,289.5L302.3,294.9Z"/>
<path d="M305.6,289.0L311.6,289.0L308.6,294.4Z"/>
<path d="M311.8,288.5L317.8,288.5L314.8,293.9Z"/>
<path d="M318.1,288.1L324.1,288.1L321.1,293.5Z"/>
<path d="M324.3,287.7L330.3,287.7L327.3,293.1Z"/>
<path d="M330.6,287.2L336.6,287.2L333.6,292.6Z"/>
<path d="M336.8,286.7L342.8,286.7L339.8,292.1Z"/>
<path d="M343.1,286.0L349.1,286.0L346.1,291.4Z"/>
<path d="M349.3,285.0L355.3,285.0L352.3,290.4Z"/>
<path d="M355.6,283.5L361.6,283.5L358.6,288.9Z"/>
<path d="M361.8,282.1L367.8,282.1L364.8,287.5Z"/>
<path d="M368.1,280.9L374.1,280.9L371.1,286.3Z"/>
<path d="M374.3,279.7L380.3,279.7L377.3,285.1Z"/>
<path d="M380.6,278.3L386.6,278.3L383.6,283.7Z"/>
<path d="M386.8,276.5L392.8,276.5L389.8,281.9Z"/>
<path d="M393.1,274.3L399.1,274.3L396.1,279.7Z"/>
<path d="M399.3,271.4L405.3,271.4L402.3,276.8Z"/>
<path d="M405.6,268.1L411.6,268.1L408.6,273.5Z"/>
<path d="M411.8,264.8L417.8,264.8L414.8,270.2Z"/>
<path d="M418.1,260.8L424.1,260.8L421.1,266.2Z"/>
<path d="M424.3,254.4L430.3,254.4L427.3,259.8Z"/>
<path d="M430.6,244.1L436.6,244.1L433.6,249.5Z"/>
<path d="M436.8,232.4L442.8,232.4L439.8,237.8Z"/>
<path d="M443.1,216.5L449.1,216.5L446.1,221.9Z"/>
<path d="M449.3,200.8L455.3,200.8L452.3,206.2Z"/>
<path d="M455.6,184.4L461.6,184.4L458.6,189.8Z"/>
<path d="M461.8,168.4L467.8,168.4L464.8,173.8Z"/>
<path d="M468.1,152.3L474.1,152.3L471.1,157.7Z"/>
<path d="M474.3,135.8L480.3,135.8L477.3,141.2Z"/>
<path d="M480.6,122.2L486.6,122.2L483.6,127.6Z"/>
<path d="M486.8,110.5L492.8,110.5L489.8,115.9Z"/>
<path d="M493.1,98.8L499.1,98.8L496.1,104.2Z"/>
<path d="M499.3,88.8L505.3,88.8L502.3,94.2Z"/>
<path d="M505.6,80.0L511.6,80.0L508.6,85.4Z"/>
<path d="M511.8,73.1L517.8,73.1L514.8,78.5Z"/>
<path d="M518.0,67.8L524.0,67.8L521.0,73.2Z"/>
<path d="M524.3,63.0L530.3,63.0L527.3,68.4Z"/>
</g>
<g fill="#B177DE" stroke="none">
<polyline points="77.3,346.3 78.3,346.2 79.3,346.2 80.3,346.1 81.3,346.1 82.3,346.0 83.3,346.0 84.3,346.0 85.3,345.9 86.3,345.9 87.3,345.8 88.3,345.8 89.3,345.8 90.3,345.7 91.3,345.7 92.3,345.7 93.3,345.7 94.3,345.6 95.3,345.6 96.3,345.6 97.3,345.5 98.3,345.5 99.3,345.4 100.3,345.4 101.3,345.2 102.3,344.9 103.3,344.6 104.3,344.1 105.3,343.7 106.3,343.3 107.3,342.9 108.3,342.5 109.3,342.1 110.3,341.7 111.3,341.3 112.3,340.8 113.3,340.3 114.3,339.9 115.3,339.3 116.3,338.7 117.3,337.8 118.3,336.7 119.3,335.8 120.3,335.0 121.3,334.3 122.3,333.6 123.3,332.9 124.3,332.3 125.3,331.6 126.3,330.9 127.3,330.5 128.3,330.5 129.3,330.8 130.3,331.3 131.3,331.7 132.3,332.4 133.3,333.0 134.3,333.3 135.3,333.3 136.3,333.4 137.3,333.4 138.3,333.4 139.3,332.8 140.3,331.9 141.3,330.7 142.3,329.7 143.3,328.8 144.3,328.0 145.3,327.2 146.3,326.4 147.3,325.7 148.3,324.9 149.3,324.2 150.3,323.5 151.3,322.8 152.3,322.1 153.3,321.4 154.3,320.7 155.3,320.0 156.3,319.2 157.3,318.4 158.3,317.6 159.3,316.8 160.3,316.1 161.3,315.4 162.3,314.8 163.3,314.3 164.3,313.8 165.3,313.4 166.3,313.0 167.3,312.6 168.3,312.2 169.3,311.9 170.3,311.6 171.3,311.3 172.3,311.0 173.3,310.8 174.3,310.6 175.3,310.3 176.3,310.1 177.3,309.9 178.3,309.7 179.3,309.5 180.3,309.3 181.3,309.1 182.3,308.9 183.3,308.7 184.3,308.6 185.3,308.4 186.3,308.2 187.3,308.0 188.3,307.8 189.3,307.6 190.3,307.5 191.3,307.3 192.3,307.1 193.3,307.0 194.3,306.8 195.3,306.7 196.3,306.5 197.3,306.4 198.3,306.2 199.3,306.1 200.3,306.0 201.3,305.8 202.3,305.7 203.3,305.6 204.3,305.4 205.3,305.3 206.3,305.2 207.3,305.1 208.3,305.0 209.3,304.9 210.3,304.7 211.3,304.6 212.3,304.5 213.3,304.4 214.3,304.3 215.3,304.2 216.3,304.2 217.3,304.1 218.3,304.0 219.3,303.9 220.3,303.8 221.3,303.8 222.3,303.7 223.3,303.6 224.3,303.5 225.3,303.5 226.3,303.4 227.3,303.3 228.3,303.2 229.3,303.2 230.3,303.1 231.3,303.0 232.3,302.9 233.3,302.8 234.3,302.7 235.3,302.6 236.3,302.6 237.3,302.5 238.3,302.4 239.3,302.3 240.3,302.2 241.3,302.1 242.3,302.0 243.3,301.9 244.3,301.8 245.3,301.7 246.3,301.6 247.3,301.5 248.3,301.4 249.3,301.3 250.3,301.3 251.3,301.2 252.3,301.1 253.3,301.0 254.3,300.9 255.3,300.9 256.3,300.8 257.3,300.7 258.3,300.7 259.3,300.6 260.3,300.5 261.3,300.5 262.3,300.4 263.3,300.3 264.3,300.3 265.3,300.2 266.3,300.1 267.3,300.1 268.3,300.0 269.3,299.9 270.3,299.8 271.3,299.8 272.3,299.7 273.3,299.6 274.3,299.5 275.3,299.4 276.3,299.3 277.3,299.3 278.3,299.2 279.3,299.1 280.3,299.0 281.3,298.9 282.3,298.8 283.3,298.7 284.3,298.6 285.3,298.5 286.3,298.4 287.3,298.3 288.3,298.2 289.3,298.1 290.3,298.0 291.3,297.9 292.3,297.8 293.3,297.7 294.3,297.6 295.3,297.5 296.3,297.4 297.3,297.3 298.3,297.2 299.3,297.1 300.3,297.0 301.3,296.9 302.3,296.8 303.3,296.7 304.3,296.6 305.3,296.5 306.3,296.4 307.3,296.3 308.3,296.2 309.3,296.1 310.3,296.0 311.3,295.9 312.3,295.8 313.3,295.7 314.3,295.6 315.3,295.5 316.3,295.4 317.3,295.3 318.3,295.2 319.3,295.2 320.3,295.1 321.3,295.0 322.3,294.9 323.3,294.8 324.3,294.7 325.3,294.6 326.3,294.5 327.3,294.4 328.3,294.3 329.3,294.2 330.3,294.1 331.3,294.0 332.3,293.9 333.3,293.7 334.3,293.6 335.3,293.5 336.3,293.4 337.3,293.2 338.3,293.1 339.3,293.0 340.3,292.8 341.3,292.7 342.3,292.6 343.3,292.4 344.3,292.2 345.3,292.1 346.3,291.9 347.3,291.7 348.3,291.5 349.3,291.3 350.3,291.0 351.3,290.7 352.3,290.5 353.3,290.2 354.3,289.9 355.3,289.7 356.3,289.4 357.3,289.1 358.3,288.9 359.3,288.6 360.3,288.4 361.3,288.1 362.3,287.9 363.3,287.7 364.3,287.4 365.3,287.2 366.3,287.0 367.3,286.8 368.3,286.5 369.3,286.3 370.3,286.1 371.3,285.8 372.3,285.6 373.3,285.3 374.3,285.1 375.3,284.8 376.3,284.6 377.3,284.3 378.3,284.0 379.3,283.7 380.3,283.4 381.3,283.1 382.3,282.8 383.3,282.5 384.3,282.2 385.3,281.9 386.3,281.5 387.3,281.2 388.3,280.8 389.3,280.4 390.3,280.0 391.3,279.6 392.3,279.0 393.3,278.4 394.3,277.7 395.3,277.0 396.3,276.4 397.3,275.9 398.3,275.4 399.3,274.9 400.3,274.4 401.3,274.0 402.3,273.4 403.3,272.8 404.3,272.2 405.3,271.5 406.3,270.8 407.3,270.1 408.3,269.3 409.3,268.4 410.3,267.5 411.3,266.5 412.3,265.5 413.3,264.4 414.3,263.3 415.3,262.2 416.3,261.0 417.3,259.8 418.3,258.5 419.3,257.3 420.3,256.0 421.3,254.7 422.3,253.4 423.3,252.1 424.3,250.8 425.3,249.5 426.3,248.3 427.3,247.2 428.3,246.0 429.3,244.9 430.3,243.8 431.3,242.7 432.3,241.5 433.3,240.3 434.3,239.1 435.3,237.6 436.3,235.9 437.3,234.1 438.3,232.5 439.3,231.2 440.3,230.4 441.3,229.8 442.3,229.4 443.3,229.0 444.3,228.6 445.3,228.1 446.3,227.5 447.3,226.8 448.3,225.8 449.3,224.8 450.3,223.8 451.3,222.7 452.3,221.6 453.3,220.5 454.3,219.2 455.3,218.0 456.3,216.8 457.3,215.8 458.3,214.9 459.3,214.2 460.3,213.5 461.3,212.9 462.3,212.3 463.3,211.6 464.3,210.8 465.3,210.1 466.3,209.3 467.3,208.5 468.3,207.8 469.3,207.0 470.3,206.3 471.3,205.6 472.3,204.9 473.3,204.2 474.3,203.5 475.3,202.8 476.3,202.2 477.3,201.6 478.3,201.0 479.3,200.4 480.3,199.8 481.3,199.3 482.3,198.7 483.3,198.2 484.3,197.6 485.3,196.9 486.3,196.2 487.3,195.4 488.3,194.7 489.3,194.0 490.3,193.4 491.3,193.0 492.3,192.5 493.3,192.1 494.3,191.6 495.3,191.3 496.3,190.9 497.3,190.6 498.3,190.3 499.3,190.0 500.3,189.8 501.3,189.5 502.3,189.3 503.3,189.1 504.3,189.0 505.3,188.8 506.3,188.7 507.3,188.5 508.3,188.4 509.3,188.3 510.3,188.1 511.3,188.1 512.3,188.0 513.3,188.0 514.3,188.0 515.3,188.1 516.3,188.2 517.3,188.3 518.3,188.4 519.3,188.5 520.3,188.5 521.3,188.5 522.3,188.5 523.3,188.4 524.3,188.4 525.3,188.3 526.3,188.2 527.3,188.1" fill="none" stroke="#B177DE" stroke-width="2.25" stroke-linejoin="round"/>
<path d="M74.1,346.3L77.3,343.1L80.5,346.3L77.3,349.5Z"/>
<path d="M80.3,346.0L83.5,342.7L86.8,346.0L83.5,349.2Z"/>
<path d="M86.6,345.7L89.8,342.5L93.0,345.7L89.8,349.0Z"/>
<path d="M92.8,345.6L96.0,342.3L99.3,345.6L96.0,348.8Z"/>
<path d="M99.1,344.9L102.3,341.7L105.5,344.9L102.3,348.2Z"/>
<path d="M105.3,342.4L108.5,339.2L111.8,342.4L108.5,345.7Z"/>
<path d="M111.6,339.6L114.8,336.4L118.0,339.6L114.8,342.9Z"/>
<path d="M117.8,334.5L121.0,331.2L124.3,334.5L121.0,337.7Z"/>
<path d="M124.1,330.5L127.3,327.2L130.5,330.5L127.3,333.7Z"/>
<path d="M130.3,333.1L133.6,329.9L136.8,333.1L133.6,336.4Z"/>
<path d="M136.6,332.4L139.8,329.2L143.0,332.4L139.8,335.6Z"/>
<path d="M142.8,326.6L146.1,323.4L149.3,326.6L146.1,329.9Z"/>
<path d="M149.1,322.1L152.3,318.9L155.5,322.1L152.3,325.3Z"/>
<path d="M155.3,317.4L158.6,314.2L161.8,317.4L158.6,320.7Z"/>
<path d="M161.6,313.6L164.8,310.4L168.0,313.6L164.8,316.8Z"/>
<path d="M167.8,311.4L171.1,308.1L174.3,311.4L171.1,314.6Z"/>
<path d="M174.1,309.9L177.3,306.7L180.5,309.9L177.3,313.2Z"/>
<path d="M180.3,308.7L183.6,305.5L186.8,308.7L183.6,311.9Z"/>
<path d="M186.6,307.5L189.8,304.3L193.0,307.5L189.8,310.8Z"/>
<path d="M192.8,306.5L196.1,303.3L199.3,306.5L196.1,309.8Z"/>
<path d="M199.1,305.7L202.3,302.5L205.5,305.7L202.3,308.9Z"/>
<path d="M205.3,304.9L208.6,301.7L211.8,304.9L208.6,308.2Z"/>
<path d="M211.6,304.3L214.8,301.1L218.0,304.3L214.8,307.5Z"/>
<path d="M217.8,303.8L221.1,300.5L224.3,303.8L221.1,307.0Z"/>
<path d="M224.1,303.3L227.3,300.1L230.5,303.3L227.3,306.5Z"/>
<path d="M230.3,302.8L233.6,299.6L236.8,302.8L233.6,306.0Z"/>
<path d="M236.6,302.2L239.8,299.0L243.0,302.2L239.8,305.5Z"/>
<path d="M242.8,301.6L246.1,298.4L249.3,301.6L246.1,304.9Z"/>
<path d="M249.1,301.1L252.3,297.9L255.5,301.1L252.3,304.3Z"/>
<path d="M255.3,300.6L258.6,297.4L261.8,300.6L258.6,303.9Z"/>
<path d="M261.6,300.2L264.8,297.0L268.0,300.2L264.8,303.5Z"/>
<path d="M267.8,299.8L271.1,296.5L274.3,299.8L271.1,303.0Z"/>
<path d="M274.1,299.3L277.3,296.0L280.5,299.3L277.3,302.5Z"/>
<path d="M280.3,298.7L283.6,295.5L286.8,298.7L283.6,301.9Z"/>
<path d="M286.6,298.1L289.8,294.9L293.0,298.1L289.8,301.3Z"/>
<path d="M292.8,297.5L296.1,294.2L299.3,297.5L296.1,300.7Z"/>
<path d="M299.1,296.8L302.3,293.6L305.5,296.8L302.3,300.1Z"/>
<path d="M305.3,296.2L308.6,292.9L311.8,296.2L308.6,299.4Z"/>
<path d="M311.6,295.6L314.8,292.3L318.0,295.6L314.8,298.8Z"/>
<path d="M317.8,295.0L321.1,291.7L324.3,295.0L321.1,298.2Z"/>
<path d="M324.1,294.4L327.3,291.1L330.5,294.4L327.3,297.6Z"/>
<path d="M330.3,293.7L333.6,290.5L336.8,293.7L333.6,296.9Z"/>
<path d="M336.6,292.9L339.8,289.7L343.0,292.9L339.8,296.2Z"/>
<path d="M342.8,292.0L346.1,288.7L349.3,292.0L346.1,295.2Z"/>
<path d="M349.1,290.5L352.3,287.2L355.5,290.5L352.3,293.7Z"/>
<path d="M355.3,288.8L358.6,285.6L361.8,288.8L358.6,292.1Z"/>
<path d="M361.6,287.3L364.8,284.1L368.0,287.3L364.8,290.6Z"/>
<path d="M367.8,285.9L371.1,282.6L374.3,285.9L371.1,289.1Z"/>
<path d="M374.1,284.3L377.3,281.0L380.5,284.3L377.3,287.5Z"/>
<path d="M380.3,282.4L383.6,279.2L386.8,282.4L383.6,285.7Z"/>
<path d="M386.6,280.2L389.8,277.0L393.0,280.2L389.8,283.5Z"/>
<path d="M392.8,276.6L396.1,273.3L399.3,276.6L396.1,279.8Z"/>
<path d="M399.1,273.4L402.3,270.2L405.5,273.4L402.3,276.7Z"/>
<path d="M405.3,269.1L408.6,265.8L411.8,269.1L408.6,272.3Z"/>
<path d="M411.6,262.7L414.8,259.5L418.0,262.7L414.8,266.0Z"/>
<path d="M417.8,255.1L421.1,251.8L424.3,255.1L421.1,258.3Z"/>
<path d="M424.1,247.2L427.3,243.9L430.5,247.2L427.3,250.4Z"/>
<path d="M430.3,240.0L433.6,236.8L436.8,240.0L433.6,243.3Z"/>
<path d="M436.6,230.8L439.8,227.5L443.0,230.8L439.8,234.0Z"/>
<path d="M442.8,227.7L446.1,224.5L449.3,227.7L446.1,230.9Z"/>
<path d="M449.1,221.6L452.3,218.4L455.5,221.6L452.3,224.9Z"/>
<path d="M455.3,214.8L458.6,211.5L461.8,214.8L458.6,218.0Z"/>
<path d="M461.6,210.5L464.8,207.2L468.0,210.5L464.8,213.7Z"/>
<path d="M467.8,205.7L471.1,202.5L474.3,205.7L471.1,209.0Z"/>
<path d="M474.1,201.6L477.3,198.3L480.5,201.6L477.3,204.8Z"/>
<path d="M480.3,198.0L483.6,194.8L486.8,198.0L483.6,201.3Z"/>
<path d="M486.6,193.7L489.8,190.5L493.0,193.7L489.8,196.9Z"/>
<path d="M492.8,191.0L496.1,187.8L499.3,191.0L496.1,194.2Z"/>
<path d="M499.1,189.3L502.3,186.1L505.5,189.3L502.3,192.6Z"/>
<path d="M505.3,188.4L508.6,185.1L511.8,188.4L508.6,191.6Z"/>
<path d="M511.6,188.1L514.8,184.8L518.0,188.1L514.8,191.3Z"/>
<path d="M517.8,188.5L521.0,185.3L524.3,188.5L521.0,191.7Z"/>
<path d="M524.1,188.1L527.3,184.8L530.5,188.1L527.3,191.3Z"/>
</g>
<g fill="#CC9900" stroke="none">
<polyline points="77.3,354.8 78.3,354.7 79.3,354.2 80.3,353.6 81.3,352.7 82.3,351.0 83.3,347.4 84.3,343.4 85.3,339.9 86.3,337.6 87.3,336.2 88.3,335.5 89.3,335.0 90.3,334.7 91.3,334.4 92.3,334.2 93.3,334.0 94.3,333.7 95.3,333.4 96.3,333.1 97.3,332.8 98.3,332.5 99.3,332.2 100.3,331.9 101.3,331.6 102.3,331.3 103.3,331.1 104.3,330.8 105.3,330.6 106.3,330.5 107.3,330.3 108.3,330.1 109.3,329.9 110.3,329.7 111.3,329.5 112.3,329.2 113.3,328.9 114.3,328.5 115.3,328.2 116.3,327.9 117.3,327.6 118.3,327.3 119.3,327.0 120.3,326.8 121.3,326.6 122.3,326.4 123.3,326.2 124.3,326.0 125.3,325.8 126.3,325.6 127.3,325.4 128.3,325.2 129.3,325.0 130.3,324.7 131.3,324.5 132.3,324.2 133.3,324.0 134.3,323.7 135.3,323.5 136.3,323.2 137.3,323.0 138.3,322.7 139.3,322.5 140.3,322.2 141.3,322.0 142.3,321.8 143.3,321.5 144.3,321.3 145.3,321.0 146.3,320.8 147.3,320.6 148.3,320.4 149.3,320.1 150.3,319.9 151.3,319.7 152.3,319.5 153.3,319.3 154.3,319.1 155.3,318.9 156.3,318.7 157.3,318.6 158.3,318.4 159.3,318.2 160.3,318.0 161.3,317.8 162.3,317.7 163.3,317.5 164.3,317.3 165.3,317.2 166.3,317.0 167.3,316.8 168.3,316.7 169.3,316.5 170.3,316.3 171.3,316.2 172.3,316.0 173.3,315.9 174.3,315.7 175.3,315.6 176.3,315.4 177.3,315.3 178.3,315.2 179.3,315.1 180.3,315.0 181.3,314.8 182.3,314.7 183.3,314.6 184.3,314.6 185.3,314.5 186.3,314.4 187.3,314.3 188.3,314.2 189.3,314.1 190.3,314.0 191.3,313.9 192.3,313.8 193.3,313.7 194.3,313.6 195.3,313.5 196.3,313.3 197.3,313.1 198.3,313.0 199.3,312.8 200.3,312.6 201.3,312.4 202.3,312.1 203.3,311.9 204.3,311.7 205.3,311.4 206.3,311.2 207.3,311.0 208.3,310.8 209.3,310.5 210.3,310.3 211.3,310.1 212.3,309.9 213.3,309.8 214.3,309.6 215.3,309.4 216.3,309.3 217.3,309.1 218.3,309.0 219.3,308.9 220.3,308.7 221.3,308.6 222.3,308.4 223.3,308.3 224.3,308.2 225.3,308.0 226.3,307.9 227.3,307.8 228.3,307.7 229.3,307.6 230.3,307.4 231.3,307.3 232.3,307.2 233.3,307.1 234.3,307.0 235.3,306.9 236.3,306.8 237.3,306.7 238.3,306.6 239.3,306.5 240.3,306.4 241.3,306.3 242.3,306.2 243.3,306.1 244.3,306.0 245.3,305.9 246.3,305.8 247.3,305.8 248.3,305.7 249.3,305.6 250.3,305.5 251.3,305.4 252.3,305.3 253.3,305.2 254.3,305.1 255.3,305.0 256.3,304.9 257.3,304.8 258.3,304.7 259.3,304.6 260.3,304.5 261.3,304.4 262.3,304.3 263.3,304.2 264.3,304.1 265.3,304.0 266.3,303.9 267.3,303.8 268.3,303.7 269.3,303.6 270.3,303.5 271.3,303.4 272.3,303.3 273.3,303.2 274.3,303.1 275.3,303.0 276.3,302.9 277.3,302.8 278.3,302.7 279.3,302.6 280.3,302.5 281.3,302.4 282.3,302.3 283.3,302.2 284.3,302.1 285.3,302.0 286.3,301.8 287.3,301.7 288.3,301.6 289.3,301.5 290.3,301.4 291.3,301.3 292.3,301.2 293.3,301.1 294.3,301.0 295.3,300.9 296.3,300.8 297.3,300.7 298.3,300.6 299.3,300.6 300.3,300.5 301.3,300.4 302.3,300.3 303.3,300.2 304.3,300.1 305.3,300.0 306.3,299.9 307.3,299.8 308.3,299.7 309.3,299.6 310.3,299.5 311.3,299.5 312.3,299.4 313.3,299.3 314.3,299.2 315.3,299.1 316.3,299.0 317.3,298.9 318.3,298.8 319.3,298.7 320.3,298.6 321.3,298.6 322.3,298.5 323.3,298.4 324.3,298.3 325.3,298.2 326.3,298.1 327.3,298.0 328.3,298.0 329.3,297.9 330.3,297.8 331.3,297.7 332.3,297.6 333.3,297.5 334.3,297.5 335.3,297.4 336.3,297.3 337.3,297.2 338.3,297.2 339.3,297.1 340.3,297.0 341.3,297.0 342.3,296.9 343.3,296.8 344.3,296.8 345.3,296.7 346.3,296.6 347.3,296.6 348.3,296.5 349.3,296.5 350.3,296.4 351.3,296.4 352.3,296.3 353.3,296.3 354.3,296.2 355.3,296.2 356.3,296.2 357.3,296.1 358.3,296.1 359.3,296.0 360.3,296.0 361.3,296.0 362.3,295.9 363.3,295.9 364.3,295.9 365.3,295.8 366.3,295.8 367.3,295.8 368.3,295.7 369.3,295.7 370.3,295.6 371.3,295.6 372.3,295.6 373.3,295.5 374.3,295.5 375.3,295.4 376.3,295.4 377.3,295.3 378.3,295.3 379.3,295.2 380.3,295.1 381.3,295.1 382.3,295.0 383.3,294.9 384.3,294.9 385.3,294.8 386.3,294.7 387.3,294.5 388.3,294.4 389.3,294.3 390.3,294.2 391.3,294.1 392.3,293.9 393.3,293.8 394.3,293.6 395.3,293.5 396.3,293.4 397.3,293.2 398.3,293.1 399.3,292.9 400.3,292.8 401.3,292.7 402.3,292.5 403.3,292.4 404.3,292.3 405.3,292.1 406.3,292.0 407.3,291.9 408.3,291.7 409.3,291.6 410.3,291.4 411.3,291.3 412.3,291.1 413.3,290.9 414.3,290.7 415.3,290.5 416.3,290.3 417.3,290.0 418.3,289.7 419.3,289.5 420.3,289.2 421.3,289.0 422.3,288.9 423.3,288.7 424.3,288.5 425.3,288.4 426.3,288.2 427.3,288.1 428.3,287.9 429.3,287.8 430.3,287.6 431.3,287.5 432.3,287.3 433.3,287.1 434.3,286.9 435.3,286.8 436.3,286.6 437.3,286.4 438.3,286.3 439.3,286.1 440.3,285.9 441.3,285.7 442.3,285.5 443.3,285.3 444.3,285.1 445.3,284.9 446.3,284.7 447.3,284.4 448.3,284.1 449.3,283.7 450.3,283.3 451.3,282.8 452.3,282.3 453.3,281.8 454.3,281.3 455.3,280.9 456.3,280.4 457.3,280.0 458.3,279.6 459.3,279.1 460.3,278.7 461.3,278.3 462.3,277.9 463.3,277.4 464.3,277.0 465.3,276.6 466.3,276.2 467.3,275.7 468.3,275.3 469.3,274.9 470.3,274.4 471.3,274.0 472.3,273.6 473.3,273.2 474.3,272.8 475.3,272.3 476.3,271.9 477.3,271.4 478.3,270.9 479.3,270.4 480.3,269.8 481.3,269.2 482.3,268.5 483.3,267.7 484.3,267.0 485.3,266.2 486.3,265.4 487.3,264.6 488.3,263.8 489.3,263.1 490.3,262.4 491.3,261.8 492.3,261.1 493.3,260.4 494.3,259.8 495.3,259.1 496.3,258.3 497.3,257.5 498.3,256.6 499.3,255.7 500.3,254.7 501.3,253.6 502.3,252.5 503.3,251.3 504.3,250.1 505.3,248.8 506.3,247.5 507.3,246.2 508.3,244.8 509.3,243.3 510.3,241.8 511.3,240.4 512.3,238.8 513.3,237.3 514.3,235.7 515.3,234.1 516.3,232.5 517.3,230.9 518.3,229.2 519.3,227.6 520.3,226.0 521.3,224.3 522.3,222.7 523.3,221.0 524.3,219.4 525.3,217.9 526.3,216.5 527.3,215.2" fill="none" stroke="#CC9900" stroke-width="2.25" stroke-linejoin="round"/>
<path d="M79.7,351.8L79.7,357.8L74.3,354.8Z"/>
<path d="M86.0,343.3L86.0,349.3L80.5,346.3Z"/>
<path d="M92.2,331.9L92.2,337.9L86.8,334.9Z"/>
<path d="M98.5,330.2L98.5,336.2L93.0,333.2Z"/>
<path d="M104.7,328.3L104.7,334.3L99.3,331.3Z"/>
<path d="M111.0,327.1L111.0,333.1L105.5,330.1Z"/>
<path d="M117.2,325.4L117.2,331.4L111.8,328.4Z"/>
<path d="M123.5,323.6L123.5,329.6L118.0,326.6Z"/>
<path d="M129.7,322.4L129.7,328.4L124.3,325.4Z"/>
<path d="M136.0,320.9L136.0,326.9L130.6,323.9Z"/>
<path d="M142.2,319.4L142.2,325.4L136.8,322.4Z"/>
<path d="M148.5,317.9L148.5,323.9L143.1,320.9Z"/>
<path d="M154.7,316.5L154.7,322.5L149.3,319.5Z"/>
<path d="M161.0,315.3L161.0,321.3L155.6,318.3Z"/>
<path d="M167.2,314.2L167.2,320.2L161.8,317.2Z"/>
<path d="M173.5,313.2L173.5,319.2L168.1,316.2Z"/>
<path d="M179.7,312.3L179.7,318.3L174.3,315.3Z"/>
<path d="M186.0,311.6L186.0,317.6L180.6,314.6Z"/>
<path d="M192.2,311.1L192.2,317.1L186.8,314.1Z"/>
<path d="M198.5,310.4L198.5,316.4L193.1,313.4Z"/>
<path d="M204.7,309.1L204.7,315.1L199.3,312.1Z"/>
<path d="M211.0,307.7L211.0,313.7L205.6,310.7Z"/>
<path d="M217.2,306.5L217.2,312.5L211.8,309.5Z"/>
<path d="M223.5,305.6L223.5,311.6L218.1,308.6Z"/>
<path d="M229.7,304.8L229.7,310.8L224.3,307.8Z"/>
<path d="M236.0,304.1L236.0,310.1L230.6,307.1Z"/>
<path d="M242.2,303.4L242.2,309.4L236.8,306.4Z"/>
<path d="M248.5,302.9L248.5,308.9L243.1,305.9Z"/>
<path d="M254.7,302.3L254.7,308.3L249.3,305.3Z"/>
<path d="M260.9,301.6L260.9,307.6L255.6,304.6Z"/>
<path d="M267.2,301.0L267.2,307.0L261.8,304.0Z"/>
<path d="M273.4,300.4L273.4,306.4L268.1,303.4Z"/>
<path d="M279.7,299.8L279.7,305.8L274.3,302.8Z"/>
<path d="M285.9,299.1L285.9,305.1L280.6,302.1Z"/>
<path d="M292.2,298.5L292.2,304.5L286.8,301.5Z"/>
<path d="M298.4,297.9L298.4,303.9L293.1,300.9Z"/>
<path d="M304.7,297.3L304.7,303.3L299.3,300.3Z"/>
<path d="M310.9,296.7L310.9,302.7L305.6,299.7Z"/>
<path d="M317.2,296.1L317.2,302.1L311.8,299.1Z"/>
<path d="M323.4,295.6L323.4,301.6L318.1,298.6Z"/>
<path d="M329.7,295.0L329.7,301.0L324.3,298.0Z"/>
<path d="M335.9,294.5L335.9,300.5L330.6,297.5Z"/>
<path d="M342.2,294.1L342.2,300.1L336.8,297.1Z"/>
<path d="M348.4,293.7L348.4,299.7L343.1,296.7Z"/>
<path d="M354.7,293.3L354.7,299.3L349.3,296.3Z"/>
<path d="M360.9,293.1L360.9,299.1L355.6,296.1Z"/>
<path d="M367.2,292.8L367.2,298.8L361.8,295.8Z"/>
<path d="M373.4,292.6L373.4,298.6L368.1,295.6Z"/>
<path d="M379.7,292.3L379.7,298.3L374.3,295.3Z"/>
<path d="M385.9,291.9L385.9,297.9L380.6,294.9Z"/>
<path d="M392.2,291.3L392.2,297.3L386.8,294.3Z"/>
<path d="M398.4,290.4L398.4,296.4L393.1,293.4Z"/>
<path d="M404.7,289.5L404.7,295.5L399.3,292.5Z"/>
<path d="M410.9,288.7L410.9,294.7L405.6,291.7Z"/>
<path d="M417.2,287.6L417.2,293.6L411.8,290.6Z"/>
<path d="M423.4,286.1L423.4,292.1L418.1,289.1Z"/>
<path d="M429.7,285.1L429.7,291.1L424.3,288.1Z"/>
<path d="M435.9,284.1L435.9,290.1L430.6,287.1Z"/>
<path d="M442.2,283.0L442.2,289.0L436.8,286.0Z"/>
<path d="M448.4,281.7L448.4,287.7L443.1,284.7Z"/>
<path d="M454.7,279.3L454.7,285.3L449.3,282.3Z"/>
<path d="M460.9,276.5L460.9,282.5L455.6,279.5Z"/>
<path d="M467.2,273.8L467.2,279.8L461.8,276.8Z"/>
<path d="M473.4,271.1L473.4,277.1L468.1,274.1Z"/>
<path d="M479.7,268.4L479.7,274.4L474.3,271.4Z"/>
<path d="M485.9,264.5L485.9,270.5L480.6,267.5Z"/>
<path d="M492.2,259.8L492.2,265.8L486.8,262.8Z"/>
<path d="M498.4,255.5L498.4,261.5L493.1,258.5Z"/>
<path d="M504.7,249.5L504.7,255.5L499.3,252.5Z"/>
<path d="M510.9,241.4L510.9,247.4L505.6,244.4Z"/>
<path d="M517.2,231.9L517.2,237.9L511.8,234.9Z"/>
<path d="M523.4,221.7L523.4,227.7L518.0,224.7Z"/>
<path d="M529.7,212.2L529.7,218.2L524.3,215.2Z"/>
</g>
</g>
<g fill="#484848"><line x1="103" y1="43.4" x2="171" y2="43.4" stroke="#484848" stroke-width="1.75"/><rect x="134.6" y="41.0" width="4.7" height="4.7"/></g>
<text class="lg" x="177.5" y="53.0" style="letter-spacing:1px">C-0</text>
<g fill="#F14040"><line x1="103" y1="79.5" x2="171" y2="79.5" stroke="#F14040" stroke-width="1.75"/><circle cx="136.9" cy="79.5" r="2.7"/></g>
<text class="lg" x="177.5" y="89.0" style="letter-spacing:1px">C-1</text>
<g fill="#1A6FDF"><line x1="103" y1="115.6" x2="171" y2="115.6" stroke="#1A6FDF" stroke-width="1.75"/><path d="M133.8,118.0L140.0,118.0L136.9,112.5Z"/></g>
<text class="lg" x="177.5" y="125.2" style="letter-spacing:1px">C-2</text>
<g fill="#37AD6B"><line x1="103" y1="151.7" x2="171" y2="151.7" stroke="#37AD6B" stroke-width="1.75"/><path d="M133.8,149.2L140.0,149.2L136.9,154.8Z"/></g>
<text class="lg" x="177.5" y="161.2" style="letter-spacing:1px">C-3</text>
<g fill="#B177DE"><line x1="103" y1="187.8" x2="171" y2="187.8" stroke="#B177DE" stroke-width="1.75"/><path d="M133.6,187.8L136.9,184.4L140.2,187.8L136.9,191.1Z"/></g>
<text class="lg" x="177.5" y="197.3" style="letter-spacing:1px">C-4</text>
<g fill="#CC9900"><line x1="103" y1="223.8" x2="171" y2="223.8" stroke="#CC9900" stroke-width="1.75"/><path d="M139.4,220.8L139.4,226.9L133.8,223.8Z"/></g>
<text class="lg" x="177.5" y="233.4" style="letter-spacing:1px">C-5</text>
</svg></body></html>
